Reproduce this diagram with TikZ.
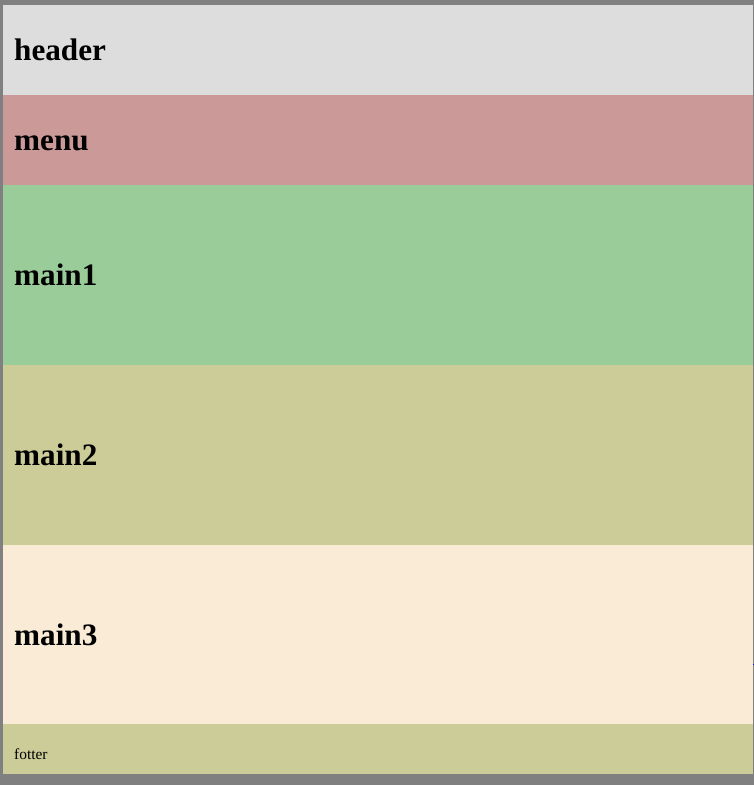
\documentclass[tikz,border=0pt]{standalone}
\usepackage{fontspec}
\setmainfont{Liberation Serif}
\definecolor{pagegray}{HTML}{808080}
\definecolor{hdr}{HTML}{DDDDDD}
\definecolor{mnu}{HTML}{CC9999}
\definecolor{mone}{HTML}{99CC99}
\definecolor{mtwo}{HTML}{CCCC99}
\definecolor{mthree}{HTML}{FAEBD7}
\definecolor{ftr}{HTML}{CCCC99}
\begin{document}
\begin{tikzpicture}[x=1pt,y=-1pt,
  band/.style={inner sep=0pt,outer sep=0pt},
  big/.style={anchor=base west,inner sep=0pt,font=\fontsize{31.2}{36}\selectfont\bfseries},
  small/.style={anchor=base west,inner sep=0pt,font=\fontsize{15.4}{18}\selectfont}]
\fill[pagegray] (0,0) rectangle (754,785);
\useasboundingbox (0,0) rectangle (754,785);
\fill[hdr] (3,5) rectangle (753,95);
\fill[mnu] (3,95) rectangle (753,185);
\fill[mone] (3,185) rectangle (753,365);
\fill[mtwo] (3,365) rectangle (753,545);
\fill[mthree] (3,545) rectangle (753,724);
\fill[ftr] (3,724) rectangle (753,774);
\fill[blue] (752.5,663.5) rectangle (753.5,665);
\node[big] (header) at (14,60) {header};
\node[big] (menu) at (14,150) {menu};
\node[big] (mainone) at (14,285.5) {main1};
\node[big] (maintwo) at (14,465.5) {main2};
\node[big] (mainthree) at (14,645.5) {main3};
\node[small] (footer) at (14,759) {fotter};
\end{tikzpicture}
\end{document}
